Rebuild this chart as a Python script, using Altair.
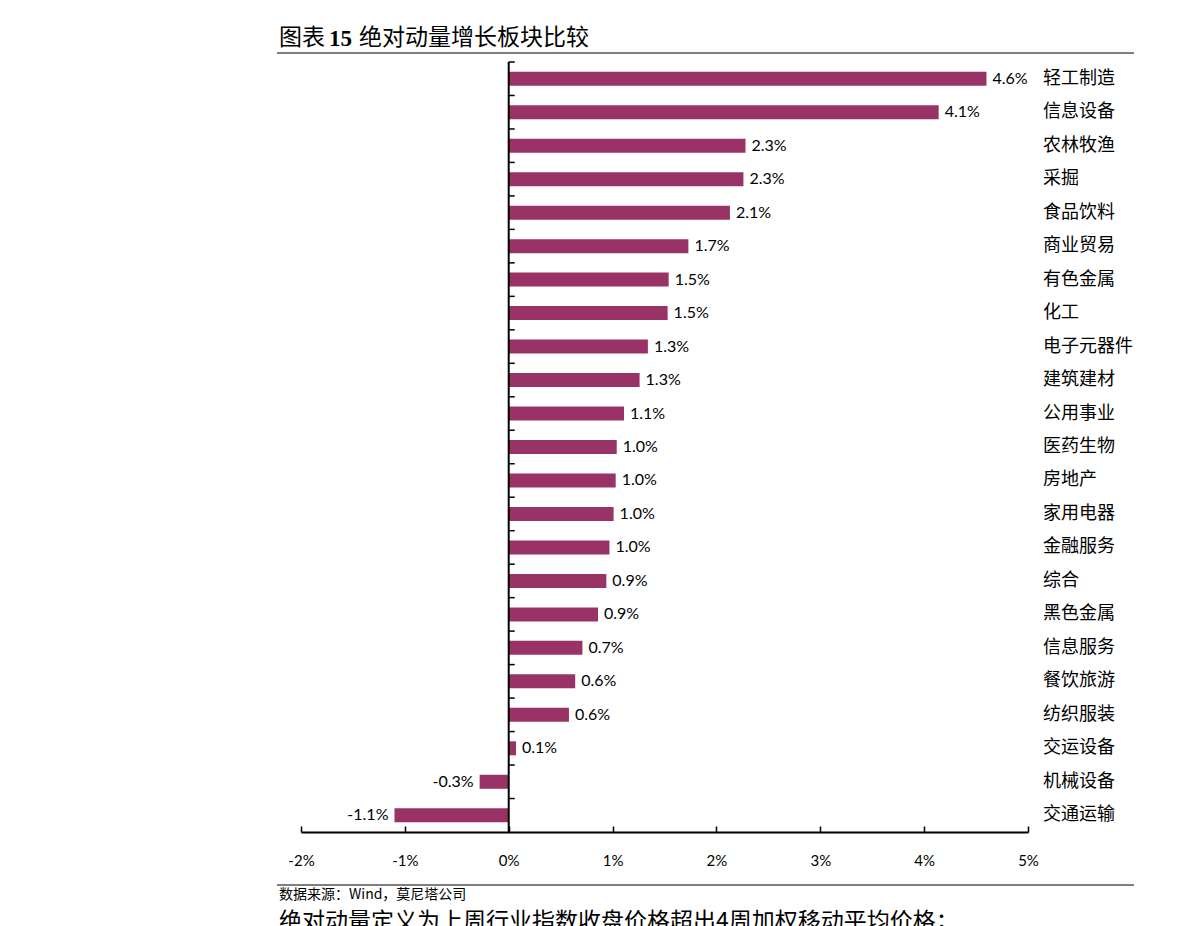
import altair as alt
import pandas as pd

# Sector absolute-momentum growth (%), top to bottom
sectors = ["轻工制造", "信息设备", "农林牧渔", "采掘", "食品饮料", "商业贸易",
           "有色金属", "化工", "电子元器件", "建筑建材", "公用事业", "医药生物",
           "房地产", "家用电器", "金融服务", "综合", "黑色金属", "信息服务",
           "餐饮旅游", "纺织服装", "交运设备", "机械设备", "交通运输"]
momentum = [4.60, 4.14, 2.28, 2.26, 2.13, 1.73, 1.54, 1.53, 1.34, 1.26, 1.11,
            1.04, 1.03, 1.01, 0.97, 0.94, 0.86, 0.71, 0.64, 0.58, 0.07, -0.28, -1.10]
x_ticks = [-2, -1, 0, 1, 2, 3, 4, 5]

df = pd.DataFrame({"sector": sectors, "momentum": momentum})
df["label"] = [f"{v:.1f}%" for v in momentum]

W, H = 727, 770
X_MIN, X_MAX = -2, 5
TICK_PX = 6
tick_len = TICK_PX * (X_MAX - X_MIN) / W  # 6px expressed in axis units

BAR_COLOR = "#993366"
NUM_FONT = "Lato"
CJK_FONT = "Noto Sans CJK SC"

x_scale = alt.Scale(domain=[X_MIN, X_MAX], nice=False, zero=False)
y_scale = alt.Scale(domain=sectors, paddingInner=0, paddingOuter=0)

base = alt.Chart(df)
one = alt.Chart(pd.DataFrame({"k": [0]}))

# Bars; the x axis sits at the bottom with its ticks pointing inward
bars = base.mark_bar(height=14, color=BAR_COLOR).encode(
    x=alt.X("momentum:Q", scale=x_scale,
            axis=alt.Axis(orient="top", offset=-H, values=x_ticks, labels=False,
                          grid=False, domainColor="black", domainWidth=2,
                          tickColor="black", tickSize=TICK_PX, tickWidth=1.5, title=None)),
    y=alt.Y("sector:N", scale=y_scale, sort=sectors, axis=None),
)

# Vertical axis line at 0% with small ticks on the category boundaries
zero_line = one.mark_rule(color="black", strokeWidth=2).encode(
    x=alt.X(datum=0, type="quantitative", scale=x_scale, axis=None),
    y=alt.value(0), y2=alt.value(H),
)
zero_ticks = base.mark_rule(color="black", strokeWidth=1.5).encode(
    x=alt.X(datum=0, type="quantitative", scale=x_scale, axis=None),
    x2=alt.X2(datum=tick_len),
    y=alt.Y("sector:N", scale=y_scale, sort=sectors, axis=None, bandPosition=0),
)

pos_labels = base.transform_filter("datum.momentum >= 0").mark_text(
    align="left", baseline="middle", dx=6, font=NUM_FONT, fontSize=16, color="black"
).encode(
    x=alt.X("momentum:Q", scale=x_scale,
            axis=alt.Axis(orient="bottom", values=x_ticks, labelExpr="datum.value + '%'",
                          domain=False, ticks=False, grid=False, labelPadding=21,
                          labelFlush=False, labelFont=NUM_FONT, labelFontSize=15,
                          labelColor="black", title=None)),
    y=alt.Y("sector:N", scale=y_scale, sort=sectors, axis=None),
    text="label:N",
)

neg_labels = base.transform_filter("datum.momentum < 0").mark_text(
    align="right", baseline="middle", dx=-6, font=NUM_FONT, fontSize=16, color="black"
).encode(
    x=alt.X("momentum:Q", scale=x_scale, axis=None),
    y=alt.Y("sector:N", scale=y_scale, sort=sectors, axis=None),
    text="label:N",
)

cat_labels = base.mark_text(
    align="left", baseline="middle", font=CJK_FONT, fontSize=18, color="black"
).encode(
    x=alt.value(W + 15),
    y=alt.Y("sector:N", scale=y_scale, sort=sectors, axis=None),
    text="sector:N",
)


def note(text, x, y, size, weight="normal", font=CJK_FONT):
    return one.mark_text(text=text, align="left", baseline="middle", font=font,
                         fontSize=size, fontWeight=weight, color="black").encode(
        x=alt.value(x), y=alt.value(y))


title_a = note("图表", -22, -24, 23)
title_b = note("15", 28, -23, 23, weight="bold", font="Liberation Serif")
title_c = note("绝对动量增长板块比较", 58, -24, 23)

title_rule = one.mark_rule(color="#7f7f7f", strokeWidth=2).encode(
    x=alt.value(-24), x2=alt.value(833), y=alt.value(-9))
source_rule = one.mark_rule(color="#555555", strokeWidth=1.5).encode(
    x=alt.value(-24), x2=alt.value(833), y=alt.value(823))

source = note("数据来源：Wind，莫尼塔公司", -22, 833, 14)
footnote = note("绝对动量定义为上周行业指数收盘价格超出4周加权移动平均价格；", -22, 860, 23)

chart = alt.layer(
    bars, zero_line, zero_ticks, pos_labels, neg_labels, cat_labels,
    title_rule, source_rule, title_a, title_b, title_c, source, footnote,
).resolve_axis(x="independent").properties(
    width=W, height=H,
    padding={"left": 301, "top": 62, "right": 163, "bottom": 94},
    autosize=alt.AutoSizeParams(type="none"),
).configure_view(stroke=None)

chart.save("out.html", embed_options={"renderer": "svg", "actions": False})
